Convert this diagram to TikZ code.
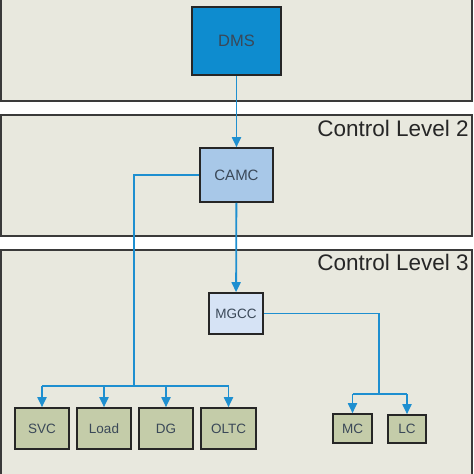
\documentclass[tikz,border=0pt]{standalone}
\usepackage{fontspec}
\setmainfont{Liberation Sans}
\usetikzlibrary{arrows.meta}
\definecolor{panelbg}{HTML}{E8E8DE}
\definecolor{panelline}{HTML}{3A3A3A}
\definecolor{linkc}{HTML}{1E8FD0}
\definecolor{dmsc}{HTML}{0E8CCF}
\definecolor{camcc}{HTML}{A8C8E8}
\definecolor{mgccc}{HTML}{D6E3F5}
\definecolor{leafc}{HTML}{C4CCA9}
\definecolor{txtc}{HTML}{3A4858}
\tikzset{
  panel/.style={draw=panelline, line width=1.8pt, fill=panelbg},
  box/.style={draw=black!85, line width=1.6pt, rectangle, inner sep=0pt, text=txtc, font=\fontsize{13.5}{15}\selectfont},
  leaf/.style={box, fill=leafc, minimum height=41pt},
  lvl/.style={anchor=east, inner sep=0pt, font=\fontsize{22.5}{26}\selectfont, text=black!85},
  link/.style={draw=linkc, line width=1.8pt},
  arr/.style={link, -{Triangle[length=10pt,width=9pt]}}
}
\begin{document}
\begin{tikzpicture}[x=1pt,y=-1pt]
\useasboundingbox (0,0) rectangle (474,474);
\fill[white] (0,0) rectangle (474,474);
% panels
\draw[panel] (1,-5) rectangle (472,101);
\draw[panel] (1,115) rectangle (472,236);
\draw[panel] (1,250) rectangle (472,480);
\node[lvl] (lvl2) at (469,128) {Control Level 2};
\node[lvl] (lvl3) at (469,262.5) {Control Level 3};
% boxes
\node[box, fill=dmsc, minimum width=89pt, minimum height=68pt, font=\fontsize{16.5}{18}\selectfont] (dms) at (236.5,41) {DMS};
\node[box, fill=camcc, minimum width=73pt, minimum height=54pt, font=\fontsize{15}{17}\selectfont] (camc) at (236.5,175) {CAMC};
\node[box, fill=mgccc, minimum width=54pt, minimum height=41pt] (mgcc) at (236,313.5) {MGCC};
\node[leaf, minimum width=54pt] (svc) at (42,428.5) {SVC};
\node[leaf, minimum width=54pt] (load) at (104,428.5) {Load};
\node[leaf, minimum width=54pt] (dg) at (166,428.5) {DG};
\node[leaf, minimum width=55pt] (oltc) at (228.5,428.5) {OLTC};
\node[leaf, minimum width=39pt, minimum height=29pt] (mc) at (352.5,428.5) {MC};
\node[leaf, minimum width=38pt, minimum height=28pt] (lc) at (407,429) {LC};
% connectors
\draw[arr] (dms) -- (camc);
\draw[arr] (camc) -- (mgcc);
\coordinate (b1) at (134,386);
\draw[link] (camc.west) -| (b1);
\draw[link] (svc.north |- b1) -- (oltc.north |- b1);
\foreach \n in {svc,load,dg,oltc} \draw[arr] (\n.north |- b1) -- (\n.north);
\coordinate (b2) at (379,394);
\draw[link] (mgcc.east) -| (b2);
\draw[link] (mc.north |- b2) -- (lc.north |- b2);
\foreach \n in {mc,lc} \draw[arr] (\n.north |- b2) -- (\n.north);
\end{tikzpicture}
\end{document}
